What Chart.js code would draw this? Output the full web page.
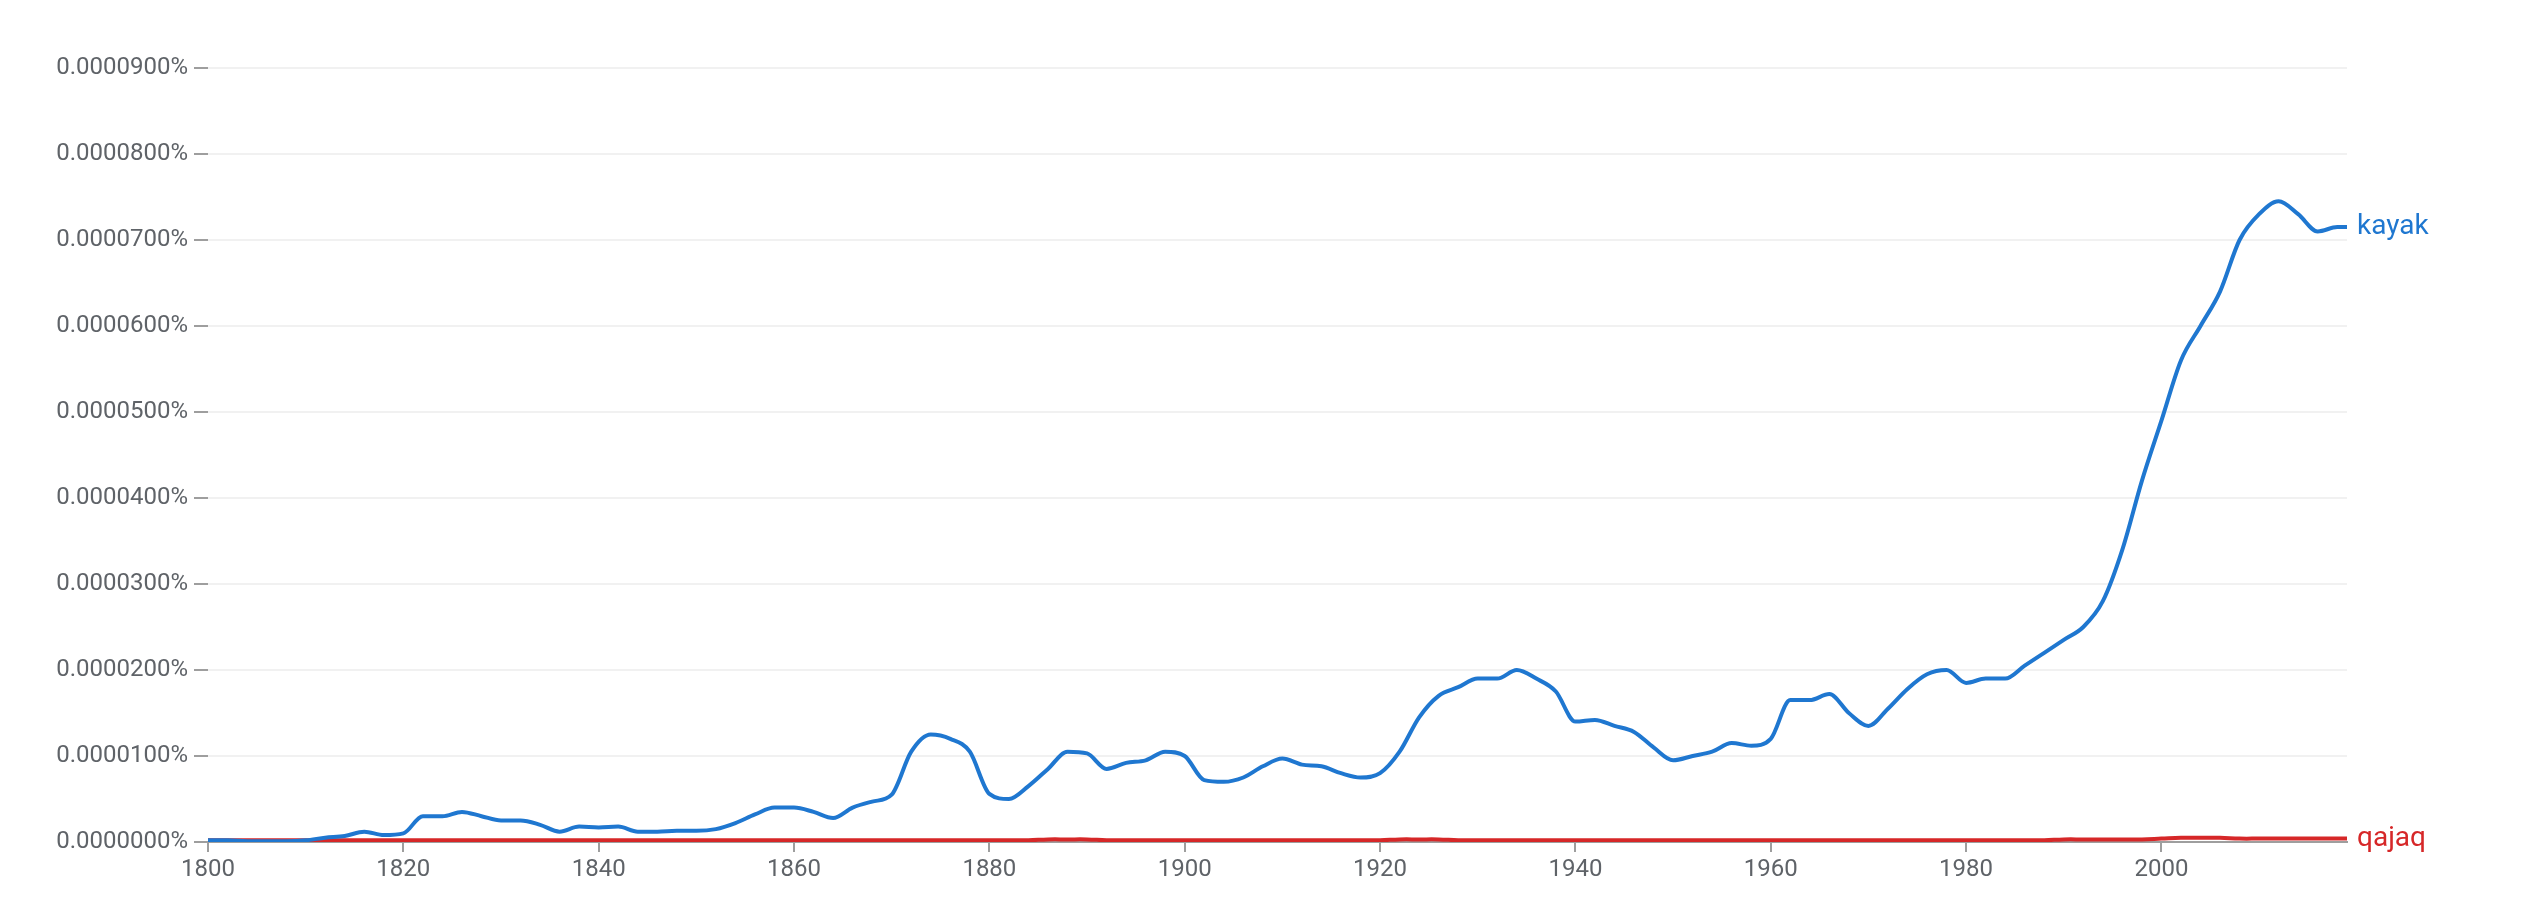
<!DOCTYPE html>
<html><head><meta charset="utf-8">
<script src="https://cdn.jsdelivr.net/npm/chart.js@4"></script>
<style>html,body{margin:0;background:#fff}</style>
</head><body>
<canvas id="c" width="2530" height="906"></canvas>
<script>
const years = [1800,1802,1804,1806,1808,1810,1812,1814,1816,1818,1820,1822,1824,1826,1828,1830,1832,1834,1836,1838,1840,1842,1844,1846,1848,1850,1852,1854,1856,1858,1860,1862,1864,1866,1868,1870,1872,1874,1876,1878,1880,1882,1884,1886,1888,1890,1892,1894,1896,1898,1900,1902,1904,1906,1908,1910,1912,1914,1916,1918,1920,1922,1924,1926,1928,1930,1932,1934,1936,1938,1940,1942,1944,1946,1948,1950,1952,1954,1956,1958,1960,1962,1964,1966,1968,1970,1972,1974,1976,1978,1980,1982,1984,1986,1988,1990,1992,1994,1996,1998,2000,2002,2004,2006,2008,2010,2012,2014,2016,2018,2019];
// values in units of 0.00001 %
const kayak = [0.02,0.02,0.01,0.01,0.01,0.02,0.05,0.07,0.12,0.08,0.1,0.3,0.3,0.35,0.3,0.25,0.25,0.2,0.12,0.18,0.17,0.18,0.12,0.12,0.13,0.13,0.15,0.22,0.32,0.4,0.4,0.35,0.28,0.4,0.47,0.55,1.05,1.25,1.2,1.05,0.56,0.5,0.65,0.85,1.05,1.03,0.85,0.92,0.95,1.05,1.0,0.72,0.7,0.75,0.88,0.97,0.9,0.88,0.8,0.75,0.8,1.05,1.45,1.7,1.8,1.9,1.9,2.0,1.9,1.75,1.4,1.42,1.35,1.28,1.1,0.95,1.0,1.05,1.15,1.12,1.2,1.65,1.65,1.72,1.5,1.35,1.55,1.78,1.95,2.0,1.85,1.9,1.9,2.05,2.2,2.35,2.5,2.8,3.4,4.2,4.9,5.6,6.0,6.4,7.0,7.3,7.45,7.3,7.1,7.15,7.15];
const qajaq = [0.02,0.02,0.02,0.02,0.02,0.02,0.02,0.02,0.02,0.02,0.02,0.02,0.02,0.02,0.02,0.02,0.02,0.02,0.02,0.02,0.02,0.02,0.02,0.02,0.02,0.02,0.02,0.02,0.02,0.02,0.02,0.02,0.02,0.02,0.02,0.02,0.02,0.02,0.02,0.02,0.02,0.02,0.02,0.03,0.03,0.03,0.02,0.02,0.02,0.02,0.02,0.02,0.02,0.02,0.02,0.02,0.02,0.02,0.02,0.02,0.02,0.03,0.03,0.03,0.02,0.02,0.02,0.02,0.02,0.02,0.02,0.02,0.02,0.02,0.02,0.02,0.02,0.02,0.02,0.02,0.02,0.02,0.02,0.02,0.02,0.02,0.02,0.02,0.02,0.02,0.02,0.02,0.02,0.02,0.02,0.03,0.03,0.03,0.03,0.03,0.04,0.05,0.05,0.05,0.04,0.04,0.04,0.04,0.04,0.04,0.04];
const yTickLabels = ['0.0000000%','0.0000100%','0.0000200%','0.0000300%','0.0000400%','0.0000500%','0.0000600%','0.0000700%','0.0000800%','0.0000900%'];
const xTickLabels = ['1800','1820','1840','1860','1880','1900','1920','1940','1960','1980','2000'];

const seriesLabels = {
  id: 'seriesLabels',
  afterDatasetsDraw(chart) {
    const ctx = chart.ctx;
    ctx.save();
    ctx.font = '28px Roboto';
    ctx.textBaseline = 'middle';
    chart.data.datasets.forEach((ds, i) => {
      const pts = chart.getDatasetMeta(i).data;
      const p = pts[pts.length - 1];
      ctx.fillStyle = ds.borderColor;
      ctx.fillText(ds.label, p.x + 10, p.y);
    });
    ctx.restore();
  }
};

new Chart(document.getElementById('c'), {
  type: 'line',
  data: {
    datasets: [
      { label: 'kayak', data: years.map((y, i) => ({ x: y, y: kayak[i] })), borderColor: '#1f77d0', borderWidth: 4, pointRadius: 0, tension: 0.4, cubicInterpolationMode: 'monotone' },
      { label: 'qajaq', data: years.map((y, i) => ({ x: y, y: qajaq[i] })), borderColor: '#d62728', borderWidth: 4, pointRadius: 0, tension: 0.4 }
    ]
  },
  options: {
    responsive: false,
    animation: false,
    layout: { padding: { top: 68, right: 183 } },
    plugins: { legend: { display: false }, tooltip: { enabled: false } },
    scales: {
      x: {
        type: 'linear', min: 1800, max: 2019,
        afterBuildTicks(ax) { ax.ticks = xTickLabels.map(v => ({ value: Number(v) })); },
        grid: { drawOnChartArea: false, color: '#9e9e9e', tickLength: 10, lineWidth: 2 },
        border: { color: '#9e9e9e', width: 2 },
        ticks: { color: '#5f6368', font: { family: 'Roboto', size: 24 }, maxRotation: 0, padding: 4, callback: (v) => String(v) },
        afterFit(ax) { ax.height = 64; }
      },
      y: {
        min: 0, max: 9,
        afterBuildTicks(ax) { ax.ticks = yTickLabels.map((t, i) => ({ value: i })); },
        grid: { color: '#f1f1f1', lineWidth: 2, tickColor: '#9e9e9e', tickLength: 14 },
        border: { display: false },
        ticks: { color: '#5f6368', font: { family: 'Roboto', size: 24 }, padding: 6, callback: (v) => yTickLabels[v] },
        afterFit(ax) { ax.width = 208; }
      }
    }
  },
  plugins: [seriesLabels]
});
</script>
</body></html>
